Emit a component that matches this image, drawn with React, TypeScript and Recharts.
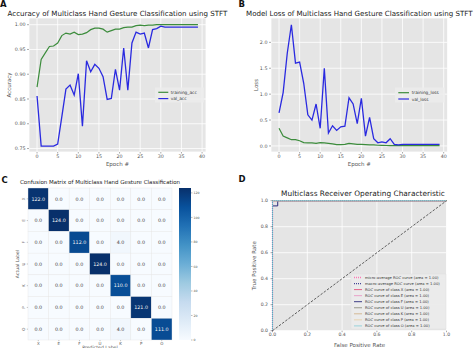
import React from 'react';
import {
  LineChart, Line, XAxis, YAxis, CartesianGrid,
  ScatterChart, Scatter, BarChart, Bar,
} from 'recharts';

const FONT = '"DejaVu Sans", Verdana, sans-serif';

// ---------- data ----------
const epochs = [0,1,2,3,4,5,6,7,8,9,10,11,12,13,14,15,16,17,18,19,20,21,22,23,24,25,26,27,28,29,30,31,32,33,34,35,36,37,38,39];
const trainAcc = [0.874,0.930,0.943,0.956,0.957,0.963,0.978,0.983,0.981,0.985,0.980,0.981,0.984,0.990,0.993,0.993,0.991,0.985,0.988,0.991,0.991,0.994,0.995,0.995,0.998,0.999,0.998,0.999,0.999,1.0,1.0,1.0,1.0,1.0,1.0,1.0,1.0,1.0,1.0,1.0];
const valAcc = [0.856,0.755,0.755,0.755,0.755,0.759,0.814,0.870,0.878,0.858,0.901,0.795,0.927,0.905,0.920,0.912,0.895,0.849,0.851,0.910,0.868,0.953,0.868,0.963,0.985,0.981,0.983,0.953,0.990,0.992,0.997,0.995,0.995,0.995,0.995,0.995,0.995,0.995,0.995,0.995];
const trainLoss = [0.34,0.19,0.155,0.12,0.12,0.10,0.065,0.058,0.058,0.05,0.065,0.06,0.05,0.04,0.025,0.025,0.03,0.05,0.04,0.03,0.03,0.025,0.02,0.02,0.013,0.01,0.008,0.007,0.006,0.005,0.005,0.005,0.005,0.005,0.005,0.005,0.005,0.005,0.005,0.005];
const valLoss = [0.64,1.03,1.79,2.34,1.60,1.62,1.21,0.60,0.50,0.81,0.34,1.50,0.25,0.39,0.30,0.37,0.38,0.93,0.81,0.43,0.92,0.19,0.55,0.14,0.06,0.08,0.06,0.14,0.03,0.02,0.03,0.03,0.03,0.03,0.03,0.03,0.03,0.03,0.03,0.03];
const epochTicks = [0,5,10,15,20,25,30,35,40];
const accTicks = [0.75,0.80,0.85,0.90,0.95,1.00];
const lossTicks = [0,0.5,1.0,1.5,2.0];

const classes = ['X','E','F','U','K','P','O'];
const confusion = [
  [122,0,0,0,0,0,0],
  [0,124,0,0,0,0,0],
  [0,0,112,0,4,0,0],
  [0,0,0,124,0,0,0],
  [0,0,0,0,110,0,0],
  [0,0,0,0,0,121,0],
  [0,0,0,0,4,0,111],
];
const cbarMax = 124;
const cbarTicks = [0,20,40,60,80,100,120];

const rocTicks = [0,0.2,0.4,0.6,0.8,1.0];
const chanceLine = [{x:0,y:0},{x:1,y:1}];
const microRoc = [{x:0,y:0},{x:0,y:1},{x:1,y:1}];
const macroRoc = [{x:0,y:0},{x:0,y:1},{x:1,y:1}];
const classRoc = [
  [{x:0,y:0},{x:0,y:1},{x:1,y:1}],
  [{x:0,y:0},{x:0,y:1},{x:1,y:1}],
  [{x:0,y:0},{x:0,y:0.96},{x:0.03,y:0.96},{x:0.03,y:1},{x:1,y:1}],
  [{x:0,y:0},{x:0,y:1},{x:1,y:1}],
  [{x:0,y:0},{x:0,y:1},{x:1,y:1}],
  [{x:0,y:0},{x:0,y:1},{x:1,y:1}],
  [{x:0,y:0},{x:0,y:1},{x:1,y:1}],
];
const rocAreas = [1.00,1.00,1.00,1.00,1.00,1.00,1.00,1.00,1.00];
const rocNames = ['micro-average ROC curve','macro-average ROC curve',
  'ROC curve of class X','ROC curve of class E','ROC curve of class F','ROC curve of class U',
  'ROC curve of class K','ROC curve of class P','ROC curve of class O'];

// ---------- styles ----------
const GREEN = '#3c8c3c';
const BLUE = '#2a2ae0';
const BG = '#E5E5E5';
const TICK = '#555';
const rocColors = ['#ff5fa8','#1a1a80','#e0507a','#e89ac4','#2a2a7a','#8f8f80','#d2b48c','#e6cfa8','#8fd0d8'];

const BLUES = ['#f7fbff','#deebf7','#c6dbef','#9ecae1','#6baed6','#4292c6','#2171b5','#08519c','#08306b'];
function hexToRgb(h: string) { return [1,3,5].map(i => parseInt(h.slice(i, i+2), 16)); }
function blues(t: number) {
  const tt = Math.max(0, Math.min(1, t)) * 8;
  const i = Math.min(7, Math.floor(tt));
  const f = tt - i;
  const a = hexToRgb(BLUES[i]); const b = hexToRgb(BLUES[i+1]);
  const c = a.map((v, k) => Math.round(v + (b[k]-v)*f));
  return `rgb(${c[0]},${c[1]},${c[2]})`;
}

const accData = epochs.map((e, i) => ({ epoch: e, train: trainAcc[i], val: valAcc[i] }));
const lossData = epochs.map((e, i) => ({ epoch: e, train: trainLoss[i], val: valLoss[i] }));
const cells = confusion.flatMap((row, r) => row.map((v, c) => ({ col: c, row: r, v })));

const tickStyle = (fs: number) => ({ fontSize: fs, fill: TICK, fontFamily: FONT });

const HM_W = 144, HM_H = 152;
const CELL_W = HM_W / 7, CELL_H = HM_H / 7;

function renderCell(props: any) {
  const { cx, cy, payload } = props;
  const v = payload.v as number;
  return (
    <g>
      <rect x={cx - CELL_W/2} y={cy - CELL_H/2} width={CELL_W} height={CELL_H}
        fill={blues(v / cbarMax)} stroke="#e6e6e6" strokeWidth={0.4} />
      <text x={cx} y={cy} dy="0.36em" textAnchor="middle" fontSize={4.8} fontFamily={FONT}
        fill={v > cbarMax/2 ? '#f4f4f4' : '#444'}>{v.toFixed(1)}</text>
    </g>
  );
}

function HeatYTick(p: any) {
  return (
    <text x={p.x} y={p.y} transform={`rotate(-90 ${p.x} ${p.y})`} textAnchor="middle"
      fontSize={4} fontFamily={FONT} fill={TICK}>{classes[p.payload.value]}</text>
  );
}

function EpochChart({ data, yDomain, yTicks, fmt, width, mLeft, mRight }: any) {
  return (
    <LineChart width={width} height={170} data={data} margin={{ top: 18, right: mRight, bottom: 6, left: mLeft }}>
      <CartesianGrid stroke="#fff" strokeWidth={0.8} fill={BG} fillOpacity={1} />
      <XAxis dataKey="epoch" type="number" domain={[-1.95, 40.95]} ticks={epochTicks} allowDataOverflow
        interval={0} axisLine={false} tickLine={{ stroke: TICK, strokeWidth: 0.5 }} tickSize={1.5} tickMargin={0.8}
        height={12} tick={tickStyle(4.8)} />
      <YAxis type="number" domain={yDomain} ticks={yTicks} allowDataOverflow interval={0}
        tickFormatter={fmt} axisLine={false} tickLine={{ stroke: TICK, strokeWidth: 0.5 }} tickSize={2} tickMargin={1.5}
        width={24} tick={tickStyle(4.8)} />
      <Line dataKey="train" stroke={GREEN} strokeWidth={1.2} dot={false} isAnimationActive={false} />
      <Line dataKey="val" stroke={BLUE} strokeWidth={1.3} dot={false} isAnimationActive={false} />
    </LineChart>
  );
}

export default function App() {
  return (
    <div style={{ position: 'absolute', left: 0, top: 0, width: 474, height: 348, overflow: 'hidden', background: '#fff', fontFamily: FONT }}>
      {/* A */}
      <div style={{ position: 'absolute', left: 0, top: 0 }}>
        <EpochChart data={accData} width={215} mLeft={5} mRight={9}
          yDomain={[0.743, 1.0135]} yTicks={accTicks} fmt={(v: number) => v.toFixed(2)} />
      </div>
      {/* B */}
      <div style={{ position: 'absolute', left: 237, top: 0 }}>
        <EpochChart data={lossData} width={237} mLeft={10} mRight={26.4}
          yDomain={[-0.117, 2.47]} yTicks={lossTicks} fmt={(v: number) => v.toFixed(1)} />
      </div>
      {/* C heatmap */}
      <div style={{ position: 'absolute', left: 0, top: 170 }}>
        <ScatterChart width={237} height={178} margin={{ top: 18, right: 65, bottom: 0, left: 18 }}>
          <XAxis dataKey="col" type="number" domain={[-0.5, 6.5]} ticks={[0,1,2,3,4,5,6]} interval={0}
            tickFormatter={(i: number) => classes[i]} axisLine={false} tickLine={{ stroke: TICK, strokeWidth: 0.4 }}
            tickSize={1.2} tickMargin={0.5} height={8} tick={tickStyle(4)} />
          <YAxis dataKey="row" type="number" domain={[-0.5, 6.5]} reversed ticks={[0,1,2,3,4,5,6]} interval={0}
            axisLine={false} tickLine={{ stroke: TICK, strokeWidth: 0.4 }} tickSize={1.2} tickMargin={2}
            width={10} tick={<HeatYTick />} />
          <Scatter data={cells} shape={renderCell} isAnimationActive={false} />
        </ScatterChart>
      </div>
      {/* C colorbar */}
      <div style={{ position: 'absolute', left: 179, top: 170 }}>
        <BarChart width={34} height={178} data={[{ name: 'cbar', v: cbarMax }]} barCategoryGap={0}
          margin={{ top: 18, right: 0, bottom: 8, left: 0 }}>
          <defs>
            <linearGradient id="bluesGrad" x1="0" y1="0" x2="0" y2="1">
              {BLUES.slice().reverse().map((c, i) => (
                <stop key={i} offset={`${(i / 8) * 100}%`} stopColor={c} />
              ))}
            </linearGradient>
          </defs>
          <XAxis dataKey="name" hide />
          <YAxis orientation="right" type="number" domain={[0, cbarMax]} ticks={cbarTicks} interval={0}
            axisLine={false} tickLine={{ stroke: TICK, strokeWidth: 0.4 }} tickSize={1.5} tickMargin={1}
            width={22} tick={tickStyle(3.2)} />
          <Bar dataKey="v" fill="url(#bluesGrad)" isAnimationActive={false} />
        </BarChart>
      </div>
      {/* D ROC */}
      <div style={{ position: 'absolute', left: 237, top: 170 }}>
        <LineChart width={237} height={178} margin={{ top: 30.7, right: 27.5, bottom: 7, left: 10 }}>
          <CartesianGrid stroke="#fff" strokeWidth={0.8} fill={BG} fillOpacity={1} />
          <XAxis dataKey="x" type="number" domain={[0, 1]} ticks={rocTicks} interval={0}
            tickFormatter={(v: number) => v.toFixed(1)} axisLine={false} tickLine={{ stroke: TICK, strokeWidth: 0.5 }}
            tickSize={1.5} tickMargin={1} height={10.3} tick={tickStyle(4.6)} />
          <YAxis dataKey="y" type="number" domain={[0, 1]} ticks={rocTicks} interval={0}
            tickFormatter={(v: number) => v.toFixed(1)} axisLine={false} tickLine={{ stroke: TICK, strokeWidth: 0.5 }}
            tickSize={2} tickMargin={2.5} width={25.5} tick={tickStyle(4.6)} />
          <Line data={microRoc} dataKey="y" stroke={rocColors[0]} strokeWidth={1.4} strokeDasharray="0.8 1.2" dot={false} isAnimationActive={false} />
          {classRoc.map((d, i) => (
            <Line key={i} data={d} dataKey="y" stroke={rocColors[i + 2]} strokeWidth={1} dot={false} isAnimationActive={false} />
          ))}
          <Line data={macroRoc} dataKey="y" stroke={rocColors[1]} strokeOpacity={0.55} strokeWidth={0.9} strokeDasharray="0.6 1.4" dot={false} isAnimationActive={false} />
          <Line data={chanceLine} dataKey="y" stroke="#222" strokeWidth={0.7} strokeDasharray="2.5 1.5" dot={false} isAnimationActive={false} />
        </LineChart>
      </div>

      {/* text overlay */}
      <svg width={474} height={348} style={{ position: 'absolute', left: 0, top: 0, pointerEvents: 'none' }} fontFamily={FONT}>
        {/* panel letters */}
        <text x={0} y={7} fontSize={8.5} fontWeight="bold" fill="#111">A</text>
        <text x={238.5} y={7} fontSize={8.5} fontWeight="bold" fill="#111">B</text>
        <text x={1.5} y={182.7} fontSize={8.5} fontWeight="bold" fill="#111">C</text>
        <text x={238.5} y={182.3} fontSize={8.5} fontWeight="bold" fill="#111">D</text>

        {/* A texts */}
        <text x={117.5} y={16} fontSize={7.1} textAnchor="middle" fill="#222">Accuracy of Multiclass Hand Gesture Classification using STFT</text>
        <text x={117.5} y={165.7} fontSize={5.5} textAnchor="middle" fill={TICK}>Epoch #</text>
        <text x={11} y={85} fontSize={5.5} textAnchor="middle" fill={TICK} transform="rotate(-90 11 85)">Accuracy</text>
        <rect x={155} y={87.5} width={49} height={15} fill="#ececec" fillOpacity={0.85} />
        <line x1={158.3} x2={168.3} y1={92.3} y2={92.3} stroke={GREEN} strokeWidth={1.2} />
        <line x1={158.3} x2={168.3} y1={98.6} y2={98.6} stroke={BLUE} strokeWidth={1.2} />
        <text x={170.7} y={93.8} fontSize={4.3} fill="#333">training_acc</text>
        <text x={170.7} y={100.1} fontSize={4.3} fill="#333">val_acc</text>

        {/* B texts */}
        <text x={359.3} y={16} fontSize={7.1} textAnchor="middle" fill="#222">Model Loss of Multiclass Hand Gesture Classification using STFT</text>
        <text x={359.3} y={165.7} fontSize={5.5} textAnchor="middle" fill={TICK}>Epoch #</text>
        <text x={257.5} y={85} fontSize={5.5} textAnchor="middle" fill={TICK} transform="rotate(-90 257.5 85)">Loss</text>
        <rect x={395} y={87.5} width={50} height={15} fill="#ececec" fillOpacity={0.85} />
        <line x1={398.3} x2={409} y1={92.7} y2={92.7} stroke={GREEN} strokeWidth={1.2} />
        <line x1={398.3} x2={409} y1={99} y2={99} stroke={BLUE} strokeWidth={1.2} />
        <text x={411.7} y={94.2} fontSize={4.3} fill="#333">training_loss</text>
        <text x={411.7} y={100.5} fontSize={4.3} fill="#333">val_loss</text>

        {/* C texts */}
        <text x={100} y={184} fontSize={5.5} textAnchor="middle" fill="#222">Confusion Matrix of Multiclass Hand Gesture Classification</text>
        <text x={100} y={348.5} fontSize={4.6} textAnchor="middle" fill={TICK}>Predicted Label</text>
        <text x={19} y={264} fontSize={4.6} textAnchor="middle" fill={TICK} transform="rotate(-90 19 264)">Actual Label</text>

        {/* D texts */}
        <text x={363} y={195.5} fontSize={7.4} textAnchor="middle" fill="#222">Multiclass Receiver Operating Characteristic</text>
        <text x={359.5} y={346.5} fontSize={5.5} textAnchor="middle" fill={TICK}>False Positive Rate</text>
        <text x={256} y={265.7} fontSize={5.5} textAnchor="middle" fill={TICK} transform="rotate(-90 256 265.7)">True Positive Rate</text>
        <rect x={351} y={274} width={95} height={55} fill="#ebebeb" fillOpacity={0.9} stroke="#d8d8d8" strokeWidth={0.3} />
        {rocNames.map((n, i) => {
          const y = 277.5 + i * 6.05;
          return (
            <g key={i}>
              <line x1={354} x2={362} y1={y} y2={y} stroke={rocColors[i]} strokeWidth={i < 2 ? 1.3 : 0.9}
                strokeDasharray={i < 2 ? '0.8 1.2' : undefined} />
              <text x={365} y={y + 1.3} fontSize={3.7} fill="#333">{`${n} (area = ${rocAreas[i].toFixed(2)})`}</text>
            </g>
          );
        })}
      </svg>
    </div>
  );
}
